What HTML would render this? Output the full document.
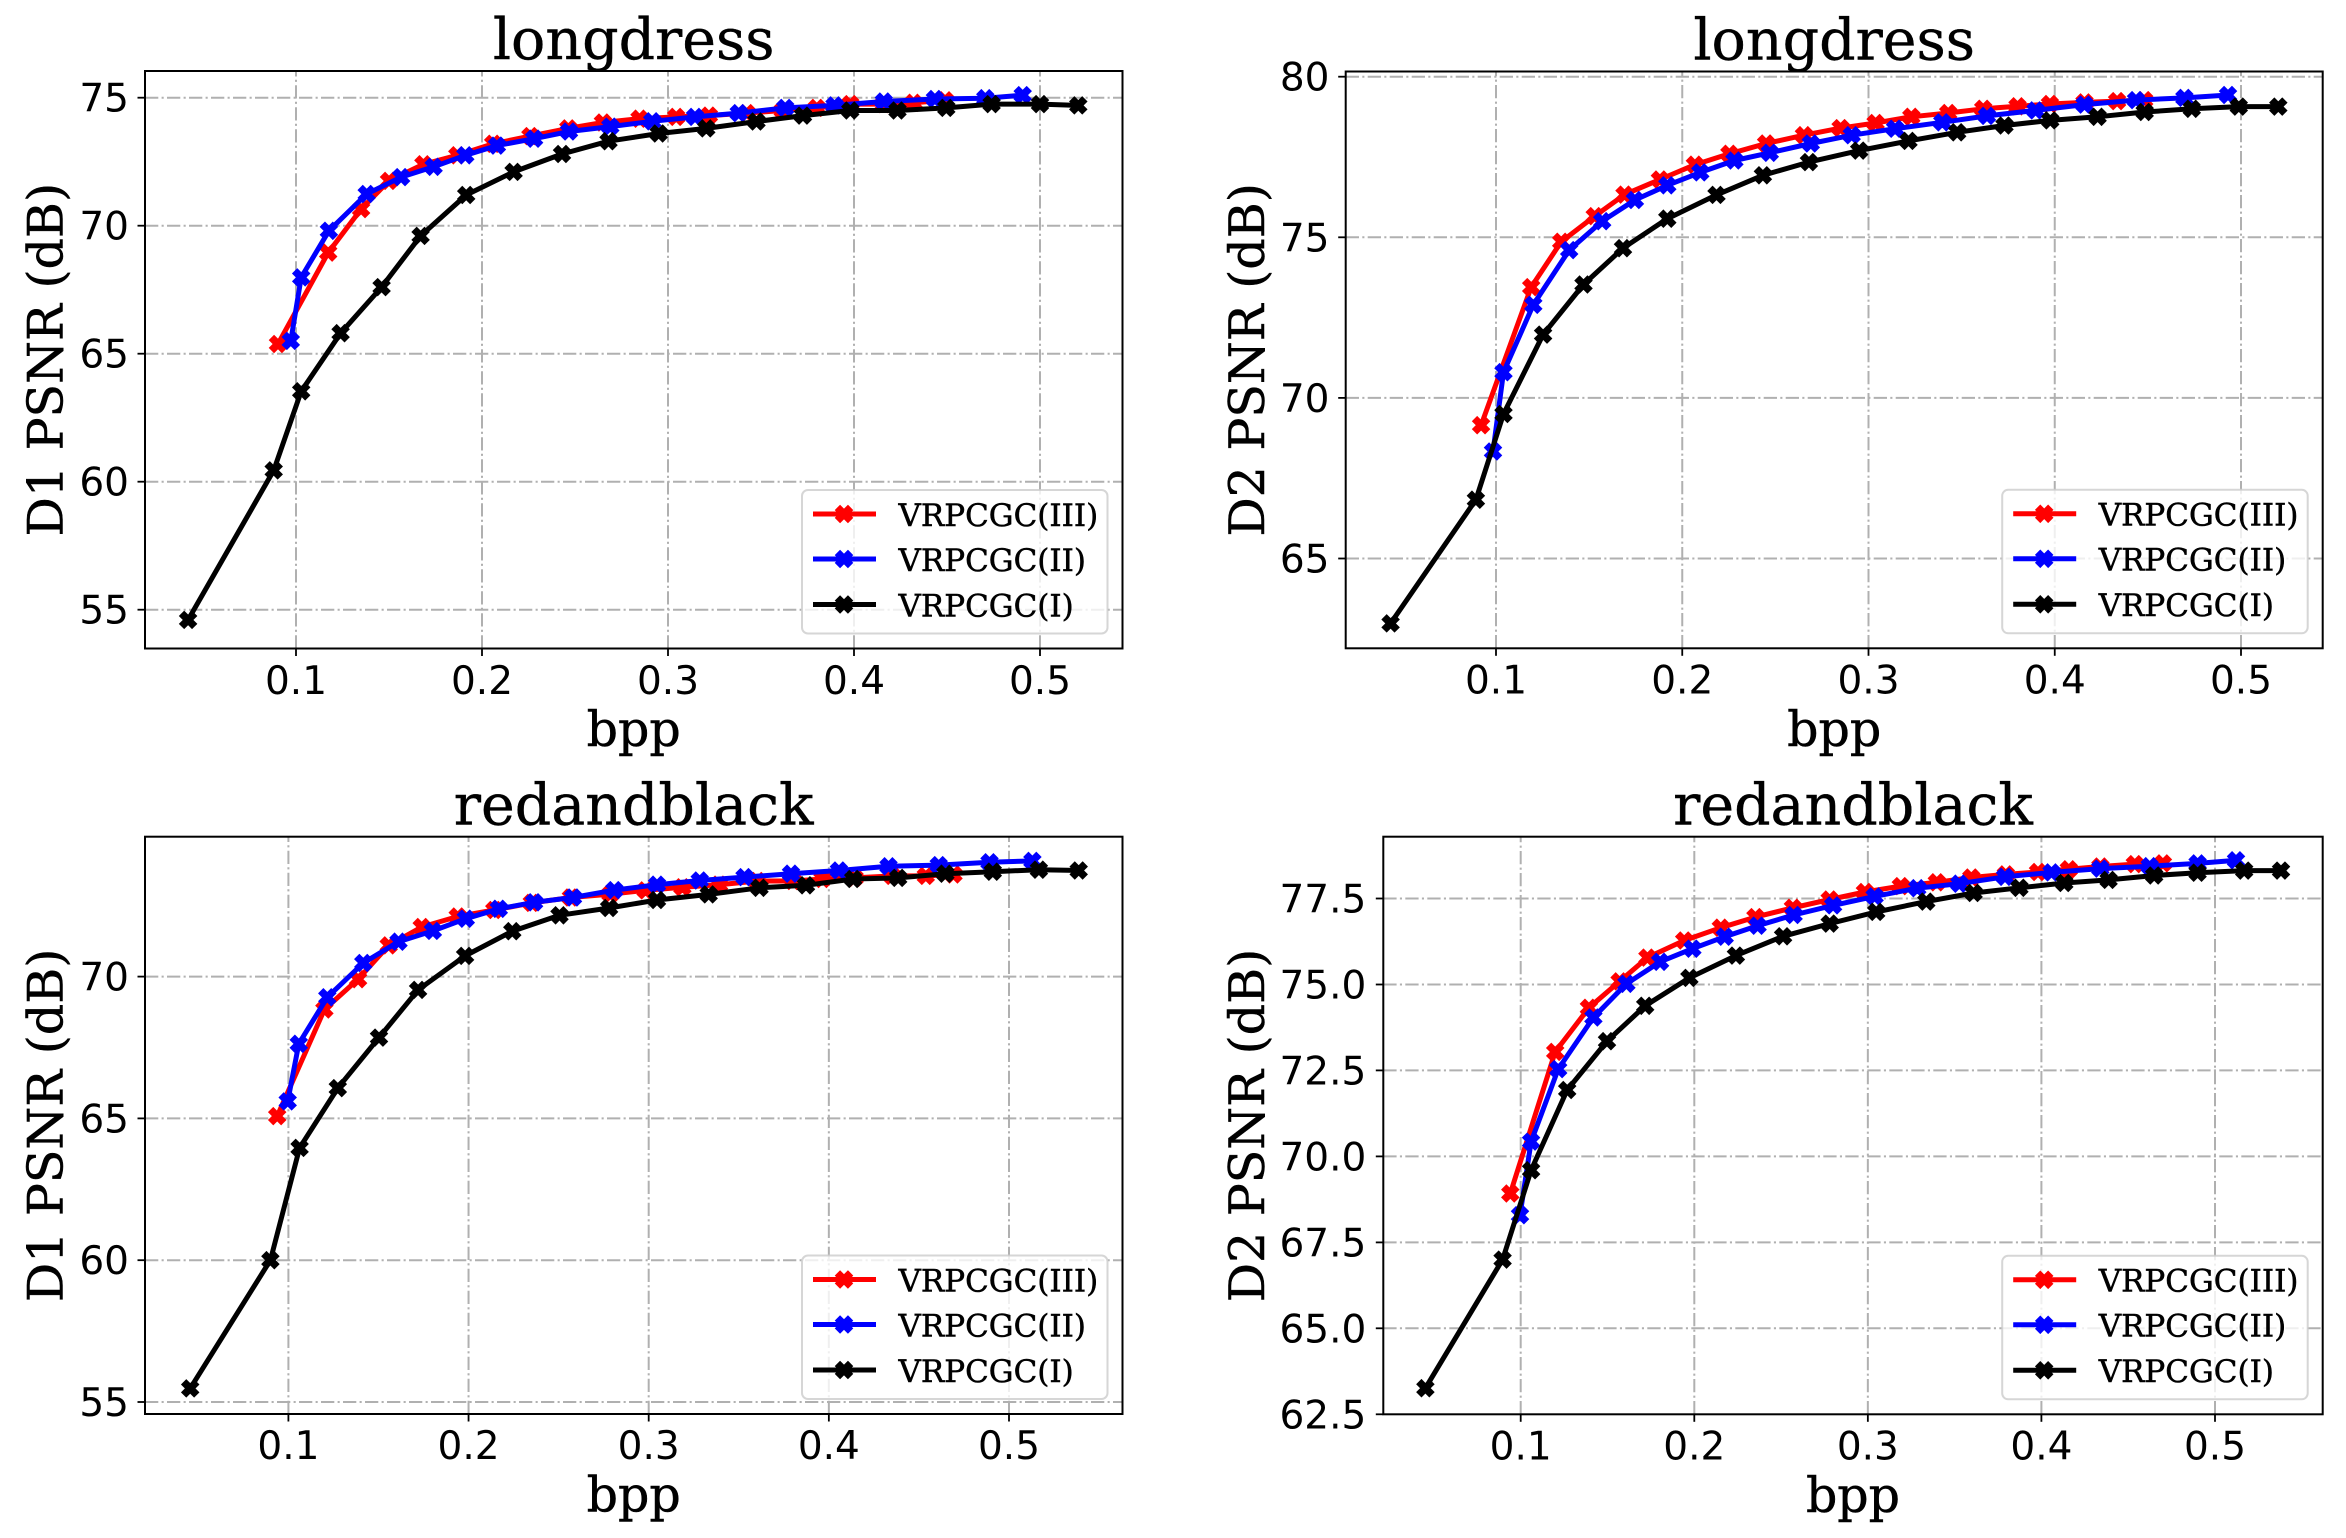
<!DOCTYPE html>
<html>
<head>
<meta charset="utf-8">
<style>
html,body{margin:0;padding:0;background:#fff;}
svg{display:block;}
.tk{font-family:"DejaVu Sans","Liberation Sans",sans-serif;font-size:39px;fill:#000;}
.ti{font-family:"DejaVu Serif","Liberation Serif",serif;font-size:57px;fill:#000;stroke:#000;stroke-width:0.4px;}
.lb{font-family:"DejaVu Serif","Liberation Serif",serif;font-size:49px;fill:#000;stroke:#000;stroke-width:0.5px;}
.lg{font-family:"DejaVu Serif","Liberation Serif",serif;font-size:31px;fill:#000;stroke:#000;stroke-width:0.5px;}
.gr{stroke:#b0b0b0;stroke-width:2;stroke-dasharray:13.3 3.3 2.1 3.3;fill:none;}
.sp{stroke:#000;stroke-width:2;fill:none;}
.tc{stroke:#000;stroke-width:1.8;}
</style>
</head>
<body>
<svg id="fig" width="2346" height="1538" viewBox="0 0 2346 1538" xmlns="http://www.w3.org/2000/svg">
<defs>
<path id="mx" d="M3.93,-7.86 L7.86,-3.93 L3.93,0 L7.86,3.93 L3.93,7.86 L0,3.93 L-3.93,7.86 L-7.86,3.93 L-3.93,0 L-7.86,-3.93 L-3.93,-7.86 L0,-3.93 Z" stroke-width="2" stroke-linejoin="miter"/>
</defs>
<rect x="0" y="0" width="2346" height="1538" fill="#fff"/>

<!-- ===== TL grid ===== -->
<g class="gr">
<line x1="296" y1="648.5" x2="296" y2="71"/><line x1="482" y1="648.5" x2="482" y2="71"/><line x1="668" y1="648.5" x2="668" y2="71"/><line x1="854" y1="648.5" x2="854" y2="71"/><line x1="1040" y1="648.5" x2="1040" y2="71"/>
<line x1="145" y1="97.7" x2="1122.5" y2="97.7"/><line x1="145" y1="225.7" x2="1122.5" y2="225.7"/><line x1="145" y1="353.7" x2="1122.5" y2="353.7"/><line x1="145" y1="481.7" x2="1122.5" y2="481.7"/><line x1="145" y1="609.7" x2="1122.5" y2="609.7"/>
</g>
<!-- ===== TR grid ===== -->
<g class="gr">
<line x1="1496" y1="648.3" x2="1496" y2="71.5"/><line x1="1682.25" y1="648.3" x2="1682.25" y2="71.5"/><line x1="1868.5" y1="648.3" x2="1868.5" y2="71.5"/><line x1="2054.75" y1="648.3" x2="2054.75" y2="71.5"/><line x1="2241" y1="648.3" x2="2241" y2="71.5"/>
<line x1="1345.7" y1="76.7" x2="2322.7" y2="76.7"/><line x1="1345.7" y1="237.3" x2="2322.7" y2="237.3"/><line x1="1345.7" y1="397.9" x2="2322.7" y2="397.9"/><line x1="1345.7" y1="558.5" x2="2322.7" y2="558.5"/>
</g>
<!-- ===== BL grid ===== -->
<g class="gr">
<line x1="288.4" y1="1414" x2="288.4" y2="836.7"/><line x1="468.55" y1="1414" x2="468.55" y2="836.7"/><line x1="648.7" y1="1414" x2="648.7" y2="836.7"/><line x1="828.85" y1="1414" x2="828.85" y2="836.7"/><line x1="1009" y1="1414" x2="1009" y2="836.7"/>
<line x1="145" y1="976.6" x2="1122.5" y2="976.6"/><line x1="145" y1="1118.4" x2="1122.5" y2="1118.4"/><line x1="145" y1="1260.2" x2="1122.5" y2="1260.2"/><line x1="145" y1="1402" x2="1122.5" y2="1402"/>
</g>
<!-- ===== BR grid ===== -->
<g class="gr">
<line x1="1520.7" y1="1414.3" x2="1520.7" y2="836.7"/><line x1="1694.3" y1="1414.3" x2="1694.3" y2="836.7"/><line x1="1867.85" y1="1414.3" x2="1867.85" y2="836.7"/><line x1="2041.4" y1="1414.3" x2="2041.4" y2="836.7"/><line x1="2215" y1="1414.3" x2="2215" y2="836.7"/>
<line x1="1383.3" y1="898.5" x2="2322.7" y2="898.5"/><line x1="1383.3" y1="984.5" x2="2322.7" y2="984.5"/><line x1="1383.3" y1="1070.4" x2="2322.7" y2="1070.4"/><line x1="1383.3" y1="1156.4" x2="2322.7" y2="1156.4"/><line x1="1383.3" y1="1242.4" x2="2322.7" y2="1242.4"/><line x1="1383.3" y1="1328.3" x2="2322.7" y2="1328.3"/>
</g>

<g id="data"></g>

<!-- ===== spines & ticks ===== -->
<rect class="sp" x="145" y="71" width="977.5" height="577.5"/>
<rect class="sp" x="1345.7" y="71.5" width="977" height="576.8"/>
<rect class="sp" x="145" y="836.7" width="977.5" height="577.3"/>
<rect class="sp" x="1383.3" y="836.7" width="939.4" height="577.6"/>
<g class="tc">
<line x1="296" y1="648.5" x2="296" y2="656"/><line x1="482" y1="648.5" x2="482" y2="656"/><line x1="668" y1="648.5" x2="668" y2="656"/><line x1="854" y1="648.5" x2="854" y2="656"/><line x1="1040" y1="648.5" x2="1040" y2="656"/>
<line x1="137.5" y1="97.7" x2="145" y2="97.7"/><line x1="137.5" y1="225.7" x2="145" y2="225.7"/><line x1="137.5" y1="353.7" x2="145" y2="353.7"/><line x1="137.5" y1="481.7" x2="145" y2="481.7"/><line x1="137.5" y1="609.7" x2="145" y2="609.7"/>
<line x1="1496" y1="648.3" x2="1496" y2="655.8"/><line x1="1682.25" y1="648.3" x2="1682.25" y2="655.8"/><line x1="1868.5" y1="648.3" x2="1868.5" y2="655.8"/><line x1="2054.75" y1="648.3" x2="2054.75" y2="655.8"/><line x1="2241" y1="648.3" x2="2241" y2="655.8"/>
<line x1="1338.2" y1="76.7" x2="1345.7" y2="76.7"/><line x1="1338.2" y1="237.3" x2="1345.7" y2="237.3"/><line x1="1338.2" y1="397.9" x2="1345.7" y2="397.9"/><line x1="1338.2" y1="558.5" x2="1345.7" y2="558.5"/>
<line x1="288.4" y1="1414" x2="288.4" y2="1421.5"/><line x1="468.55" y1="1414" x2="468.55" y2="1421.5"/><line x1="648.7" y1="1414" x2="648.7" y2="1421.5"/><line x1="828.85" y1="1414" x2="828.85" y2="1421.5"/><line x1="1009" y1="1414" x2="1009" y2="1421.5"/>
<line x1="137.5" y1="976.6" x2="145" y2="976.6"/><line x1="137.5" y1="1118.4" x2="145" y2="1118.4"/><line x1="137.5" y1="1260.2" x2="145" y2="1260.2"/><line x1="137.5" y1="1402" x2="145" y2="1402"/>
<line x1="1520.7" y1="1414.3" x2="1520.7" y2="1421.8"/><line x1="1694.3" y1="1414.3" x2="1694.3" y2="1421.8"/><line x1="1867.85" y1="1414.3" x2="1867.85" y2="1421.8"/><line x1="2041.4" y1="1414.3" x2="2041.4" y2="1421.8"/><line x1="2215" y1="1414.3" x2="2215" y2="1421.8"/>
<line x1="1375.8" y1="898.5" x2="1383.3" y2="898.5"/><line x1="1375.8" y1="984.5" x2="1383.3" y2="984.5"/><line x1="1375.8" y1="1070.4" x2="1383.3" y2="1070.4"/><line x1="1375.8" y1="1156.4" x2="1383.3" y2="1156.4"/><line x1="1375.8" y1="1242.4" x2="1383.3" y2="1242.4"/><line x1="1375.8" y1="1328.3" x2="1383.3" y2="1328.3"/><line x1="1375.8" y1="1414.3" x2="1383.3" y2="1414.3"/>
</g>

<!-- ===== tick labels ===== -->
<g class="tk" text-anchor="middle">
<text x="296" y="694">0.1</text><text x="482" y="694">0.2</text><text x="668" y="694">0.3</text><text x="854" y="694">0.4</text><text x="1040" y="694">0.5</text>
<text x="1496" y="693.5">0.1</text><text x="1682.25" y="693.5">0.2</text><text x="1868.5" y="693.5">0.3</text><text x="2054.75" y="693.5">0.4</text><text x="2241" y="693.5">0.5</text>
<text x="288.4" y="1459">0.1</text><text x="468.55" y="1459">0.2</text><text x="648.7" y="1459">0.3</text><text x="828.85" y="1459">0.4</text><text x="1009" y="1459">0.5</text>
<text x="1520.7" y="1459.3">0.1</text><text x="1694.3" y="1459.3">0.2</text><text x="1867.85" y="1459.3">0.3</text><text x="2041.4" y="1459.3">0.4</text><text x="2215" y="1459.3">0.5</text>
</g>
<g class="tk" text-anchor="end">
<text x="129" y="111.7">75</text><text x="129" y="239.7">70</text><text x="129" y="367.7">65</text><text x="129" y="495.7">60</text><text x="129" y="623.7">55</text>
<text x="1329.5" y="90.7">80</text><text x="1329.5" y="251.3">75</text><text x="1329.5" y="411.9">70</text><text x="1329.5" y="572.5">65</text>
<text x="129" y="990.6">70</text><text x="129" y="1132.4">65</text><text x="129" y="1274.2">60</text><text x="129" y="1416">55</text>
<text x="1366.3" y="912.5">77.5</text><text x="1366.3" y="998.5">75.0</text><text x="1366.3" y="1084.4">72.5</text><text x="1366.3" y="1170.4">70.0</text><text x="1366.3" y="1256.4">67.5</text><text x="1366.3" y="1342.3">65.0</text><text x="1366.3" y="1428.3">62.5</text>
</g>

<!-- ===== titles & axis labels ===== -->
<g text-anchor="middle">
<text class="ti" x="633.7" y="59">longdress</text>
<text class="ti" x="1834.2" y="59.5">longdress</text>
<text class="ti" x="633.7" y="824.5">redandblack</text>
<text class="ti" x="1853" y="824.5">redandblack</text>
<text class="lb" x="633.7" y="746">bpp</text>
<text class="lb" x="1834.2" y="746">bpp</text>
<text class="lb" x="633.7" y="1511.5">bpp</text>
<text class="lb" x="1853" y="1512">bpp</text>
<text class="lb" transform="translate(62.6,359.7) rotate(-90)">D1 PSNR (dB)</text>
<text class="lb" transform="translate(1264,359.9) rotate(-90)">D2 PSNR (dB)</text>
<text class="lb" transform="translate(62.6,1125.4) rotate(-90)">D1 PSNR (dB)</text>
<text class="lb" transform="translate(1264,1125.5) rotate(-90)">D2 PSNR (dB)</text>
</g>

<!-- ===== legends ===== -->
<g id="legends">
<g transform="translate(802,490)">
<rect x="0" y="0" width="305.5" height="143.5" rx="6" ry="6" fill="#fff" fill-opacity="0.8" stroke="#cccccc" stroke-opacity="0.8" stroke-width="2"/>
<line x1="11" y1="24" x2="74" y2="24" stroke="#ff0000" stroke-width="5"/><use href="#mx" x="42" y="24" fill="#ff0000" stroke="#ff0000"/>
<line x1="11" y1="69" x2="74" y2="69" stroke="#0000ff" stroke-width="5"/><use href="#mx" x="42" y="69" fill="#0000ff" stroke="#0000ff"/>
<line x1="11" y1="114.5" x2="74" y2="114.5" stroke="#000" stroke-width="5"/><use href="#mx" x="42" y="114.5" fill="#000" stroke="#000"/>
<text class="lg" x="96.5" y="35.8">VRPCGC(III)</text>
<text class="lg" x="96.5" y="80.8">VRPCGC(II)</text>
<text class="lg" x="96.5" y="126.3">VRPCGC(I)</text>
</g>
<g transform="translate(2002.2,489.8)">
<rect x="0" y="0" width="305.5" height="143.5" rx="6" ry="6" fill="#fff" fill-opacity="0.8" stroke="#cccccc" stroke-opacity="0.8" stroke-width="2"/>
<line x1="11" y1="24" x2="74" y2="24" stroke="#ff0000" stroke-width="5"/><use href="#mx" x="42" y="24" fill="#ff0000" stroke="#ff0000"/>
<line x1="11" y1="69" x2="74" y2="69" stroke="#0000ff" stroke-width="5"/><use href="#mx" x="42" y="69" fill="#0000ff" stroke="#0000ff"/>
<line x1="11" y1="114.5" x2="74" y2="114.5" stroke="#000" stroke-width="5"/><use href="#mx" x="42" y="114.5" fill="#000" stroke="#000"/>
<text class="lg" x="96.5" y="35.8">VRPCGC(III)</text>
<text class="lg" x="96.5" y="80.8">VRPCGC(II)</text>
<text class="lg" x="96.5" y="126.3">VRPCGC(I)</text>
</g>
<g transform="translate(802,1255.5)">
<rect x="0" y="0" width="305.5" height="143.5" rx="6" ry="6" fill="#fff" fill-opacity="0.8" stroke="#cccccc" stroke-opacity="0.8" stroke-width="2"/>
<line x1="11" y1="24" x2="74" y2="24" stroke="#ff0000" stroke-width="5"/><use href="#mx" x="42" y="24" fill="#ff0000" stroke="#ff0000"/>
<line x1="11" y1="69" x2="74" y2="69" stroke="#0000ff" stroke-width="5"/><use href="#mx" x="42" y="69" fill="#0000ff" stroke="#0000ff"/>
<line x1="11" y1="114.5" x2="74" y2="114.5" stroke="#000" stroke-width="5"/><use href="#mx" x="42" y="114.5" fill="#000" stroke="#000"/>
<text class="lg" x="96.5" y="35.8">VRPCGC(III)</text>
<text class="lg" x="96.5" y="80.8">VRPCGC(II)</text>
<text class="lg" x="96.5" y="126.3">VRPCGC(I)</text>
</g>
<g transform="translate(2002.2,1255.8)">
<rect x="0" y="0" width="305.5" height="143.5" rx="6" ry="6" fill="#fff" fill-opacity="0.8" stroke="#cccccc" stroke-opacity="0.8" stroke-width="2"/>
<line x1="11" y1="24" x2="74" y2="24" stroke="#ff0000" stroke-width="5"/><use href="#mx" x="42" y="24" fill="#ff0000" stroke="#ff0000"/>
<line x1="11" y1="69" x2="74" y2="69" stroke="#0000ff" stroke-width="5"/><use href="#mx" x="42" y="69" fill="#0000ff" stroke="#0000ff"/>
<line x1="11" y1="114.5" x2="74" y2="114.5" stroke="#000" stroke-width="5"/><use href="#mx" x="42" y="114.5" fill="#000" stroke="#000"/>
<text class="lg" x="96.5" y="35.8">VRPCGC(III)</text>
<text class="lg" x="96.5" y="80.8">VRPCGC(II)</text>
<text class="lg" x="96.5" y="126.3">VRPCGC(I)</text>
</g>
</g>
</svg>

<script>
(function(){
var NS="http://www.w3.org/2000/svg";
var axes=[
 {xa:296,xb:1040,va:75,ya:97.7,vb:55,yb:609.7,
  r:[[0.0903,65.38],[0.1173,68.95],[0.135,70.65],[0.15,71.75],[0.1685,72.4],[0.1867,72.75],[0.206,73.2],[0.226,73.5],[0.2464,73.8],[0.265,74.03],[0.2847,74.18],[0.3044,74.25],[0.322,74.3],[0.3423,74.4],[0.3617,74.5],[0.38,74.6],[0.398,74.75],[0.416,74.75],[0.432,74.8],[0.449,74.9]],
  b:[[0.0972,65.5],[0.1028,67.98],[0.1177,69.8],[0.138,71.24],[0.1565,71.9],[0.174,72.3],[0.191,72.75],[0.208,73.13],[0.228,73.4],[0.2468,73.68],[0.269,73.87],[0.2915,74.08],[0.3145,74.25],[0.338,74.4],[0.363,74.6],[0.3895,74.7],[0.416,74.85],[0.4435,74.95],[0.4706,74.98],[0.4907,75.1]],
  k:[[0.042,54.6],[0.088,60.44],[0.1028,63.53],[0.124,65.8],[0.146,67.6],[0.167,69.6],[0.1915,71.2],[0.217,72.1],[0.243,72.8],[0.268,73.3],[0.295,73.6],[0.3206,73.8],[0.3476,74.07],[0.3726,74.3],[0.398,74.5],[0.4234,74.5],[0.4496,74.6],[0.474,74.75],[0.5,74.75],[0.5206,74.7]]},
 {xa:1496,xb:2241,va:80,ya:76.7,vb:65,yb:558.5,
  r:[[0.092,69.15],[0.1189,73.45],[0.135,74.86],[0.153,75.66],[0.169,76.33],[0.188,76.8],[0.2068,77.26],[0.2253,77.6],[0.245,77.92],[0.2653,78.18],[0.285,78.4],[0.3038,78.56],[0.323,78.75],[0.3428,78.87],[0.3616,79.0],[0.38,79.08],[0.3974,79.15],[0.416,79.2],[0.4335,79.24],[0.448,79.27]],
  b:[[0.0984,68.33],[0.104,70.8],[0.12,72.9],[0.1393,74.6],[0.157,75.5],[0.1746,76.16],[0.192,76.62],[0.2097,77.02],[0.228,77.39],[0.247,77.63],[0.269,77.92],[0.291,78.18],[0.3143,78.38],[0.3396,78.58],[0.3636,78.78],[0.3897,78.95],[0.416,79.13],[0.4436,79.27],[0.4696,79.34],[0.493,79.43]],
  k:[[0.0434,62.98],[0.0892,66.83],[0.104,69.5],[0.1253,71.97],[0.147,73.53],[0.1682,74.66],[0.192,75.58],[0.2184,76.32],[0.2433,76.93],[0.268,77.34],[0.295,77.7],[0.3215,78.0],[0.3476,78.27],[0.373,78.48],[0.3976,78.64],[0.423,78.75],[0.4483,78.9],[0.4736,79.0],[0.4988,79.07],[0.52,79.07]]},
 {xa:288.4,xb:1009,va:70,ya:976.6,vb:55,yb:1402,
  r:[[0.0938,65.08],[0.12,68.84],[0.1387,69.91],[0.1557,71.1],[0.174,71.75],[0.194,72.12],[0.2143,72.35],[0.2351,72.6],[0.2568,72.79],[0.2788,72.91],[0.2983,73.04],[0.3187,73.15],[0.339,73.24],[0.3603,73.37],[0.38,73.37],[0.3965,73.44],[0.4143,73.48],[0.4351,73.55],[0.4538,73.55],[0.4692,73.6]],
  b:[[0.0996,65.6],[0.1058,67.63],[0.1216,69.27],[0.1416,70.48],[0.1611,71.23],[0.1802,71.61],[0.1985,72.04],[0.2168,72.39],[0.2364,72.62],[0.258,72.79],[0.2809,73.05],[0.3046,73.24],[0.3283,73.39],[0.3532,73.51],[0.379,73.63],[0.4056,73.74],[0.4331,73.89],[0.461,73.93],[0.4892,74.03],[0.513,74.08]],
  k:[[0.0455,55.48],[0.090,60.0],[0.1062,63.96],[0.1274,66.07],[0.1503,67.85],[0.172,69.53],[0.1981,70.73],[0.2243,71.6],[0.2505,72.16],[0.278,72.42],[0.3046,72.7],[0.3333,72.9],[0.3615,73.13],[0.3873,73.22],[0.4135,73.44],[0.4385,73.48],[0.4647,73.63],[0.491,73.7],[0.5166,73.77],[0.5387,73.74]]},
 {xa:1520.7,xb:2215,va:77.5,ya:898.5,vb:62.5,yb:1414.3,
  r:[[0.094,68.92],[0.1199,73.04],[0.1393,74.32],[0.157,75.09],[0.173,75.78],[0.1942,76.28],[0.2153,76.65],[0.2352,76.96],[0.2568,77.23],[0.278,77.47],[0.2983,77.69],[0.319,77.86],[0.3397,77.97],[0.3596,78.11],[0.3795,78.2],[0.398,78.27],[0.4158,78.35],[0.434,78.43],[0.4538,78.5],[0.47,78.52]],
  b:[[0.0996,68.29],[0.106,70.43],[0.1216,72.54],[0.1419,74.04],[0.1609,75.02],[0.1803,75.66],[0.1989,76.04],[0.2175,76.39],[0.2365,76.71],[0.2572,77.02],[0.28,77.3],[0.3039,77.56],[0.3285,77.8],[0.3527,77.93],[0.379,78.13],[0.4058,78.26],[0.4339,78.37],[0.4624,78.44],[0.49,78.52],[0.5121,78.61]],
  k:[[0.0451,63.26],[0.0896,67.0],[0.106,69.6],[0.1268,71.93],[0.1497,73.35],[0.1717,74.38],[0.1972,75.19],[0.224,75.84],[0.2512,76.4],[0.278,76.77],[0.3048,77.11],[0.3337,77.41],[0.3609,77.66],[0.3873,77.81],[0.4132,77.95],[0.4387,78.04],[0.465,78.17],[0.49,78.25],[0.5168,78.31],[0.538,78.31]]}
];
var g=document.getElementById("data");
var cols={r:"#ff0000",b:"#0000ff",k:"#000000"};
axes.forEach(function(a){
  function X(v){return a.xa+(v-0.1)*(a.xb-a.xa)/0.4;}
  function Y(v){return a.ya+(v-a.va)*(a.yb-a.ya)/(a.vb-a.va);}
  ["r","b","k"].forEach(function(s){
    var pts=a[s].map(function(p){return X(p[0]).toFixed(1)+","+Y(p[1]).toFixed(1);}).join(" ");
    var pl=document.createElementNS(NS,"polyline");
    pl.setAttribute("points",pts);
    pl.setAttribute("fill","none");
    pl.setAttribute("stroke",cols[s]);
    pl.setAttribute("stroke-width","5");
    pl.setAttribute("stroke-linejoin","round");
    pl.setAttribute("stroke-linecap","square");
    g.appendChild(pl);
    a[s].forEach(function(p){
      var u=document.createElementNS(NS,"use");
      u.setAttribute("href","#mx");
      u.setAttribute("x",X(p[0]).toFixed(1));
      u.setAttribute("y",Y(p[1]).toFixed(1));
      u.setAttribute("fill",cols[s]);
      u.setAttribute("stroke",cols[s]);
      g.appendChild(u);
    });
  });
});
})();
</script>
</body>
</html>
